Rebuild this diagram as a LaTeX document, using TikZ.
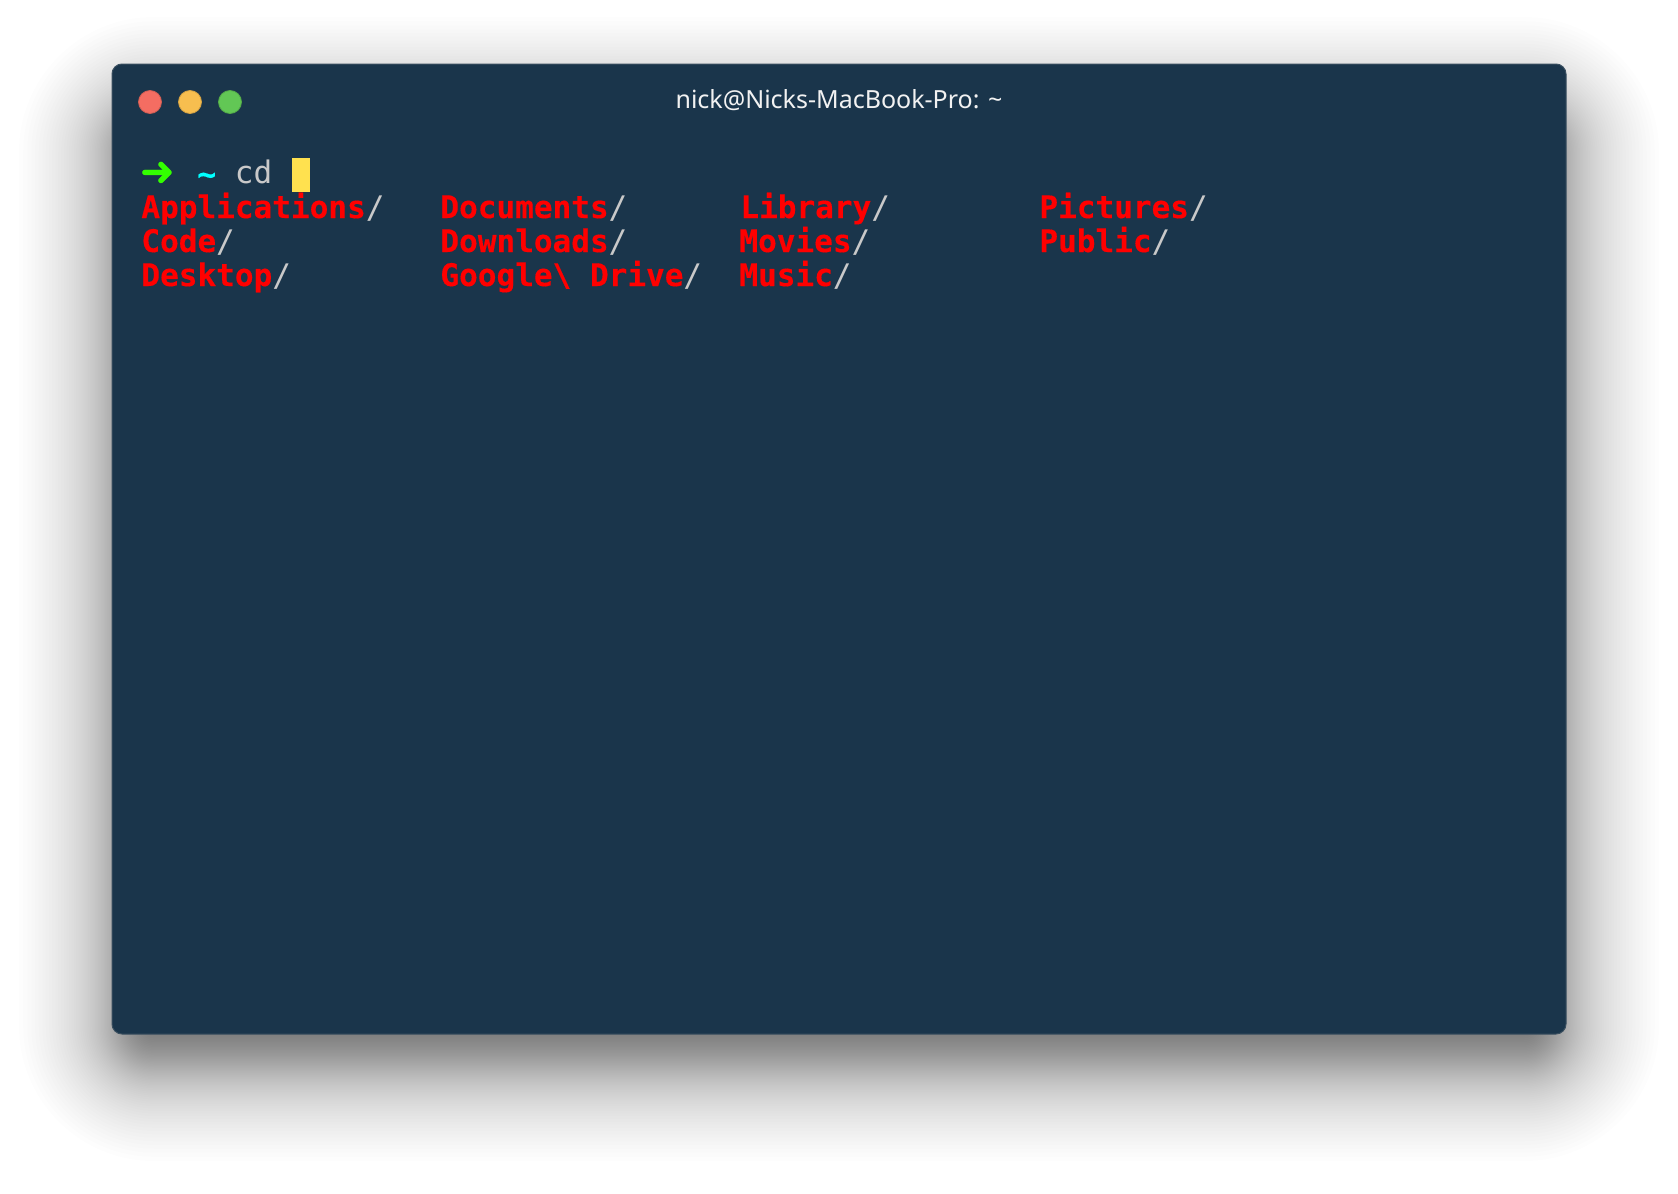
\documentclass[tikz,border=0pt]{standalone}
\usepackage{fontspec}
\setmainfont{Noto Sans}
\newfontfamily\termfont[BoldFeatures={FakeBold=0.35}]{DejaVu Sans Mono}
\usepackage{xcolor}
\definecolor{winbg}{HTML}{1A354B}
\definecolor{winedge}{HTML}{3A4F60}
\definecolor{termgray}{HTML}{C9C9C9}
\definecolor{termred}{HTML}{FF0000}
\definecolor{termcyan}{HTML}{00FFFF}
\definecolor{cursoryellow}{HTML}{FFE14F}
\definecolor{promptgreen}{HTML}{33FF00}
\definecolor{closered}{HTML}{F46D62}
\definecolor{minyellow}{HTML}{F7BE4F}
\definecolor{zoomgreen}{HTML}{62C755}
\begin{document}
\begin{tikzpicture}[x=0.5pt,y=-0.5pt]
    \tikzstyle{dirname} = [anchor=base west,inner sep=0,text=termred,font=\termfont\fontsize{15.53}{17}\selectfont\bfseries]
    \tikzstyle{light} = [circle,minimum size=11.5pt,inner sep=0,line width=.4pt]
    \useasboundingbox (0,0) rectangle (1678,1194);
    \fill[white] (0,0) rectangle (1678,1194);
    % soft shadow, one faint layer on top of the other
    \foreach \i in {-42,...,42}
    {
      \pgfmathsetmacro{\t}{\i/42}
      \pgfmathsetmacro{\d}{95*\t*(0.55+0.45*\t*\t)}
      \pgfmathsetmacro{\r}{max(5,(40+\d)*0.5)}
      \fill[black,opacity=0.0068,rounded corners=\r pt] ({114-\d},{112-\d}) rectangle ({1564+\d},{1066+\d});
    }
    \fill[winbg,draw=winedge,line width=.5pt,rounded corners=5pt] (112,64) rectangle (1566,1034);
    \node[light,fill=closered,draw=closered!85!black] (close) at (150,102) {};
    \node[light,fill=minyellow,draw=minyellow!85!black] (min) at (190,102) {};
    \node[light,fill=zoomgreen,draw=zoomgreen!85!black] (zoom) at (230,102) {};
    \node[text=white!95!black,font=\fontsize{12.5}{14}\selectfont] (title) at (839,100) {nick@Nicks-MacBook-Pro: \textasciitilde};
    % prompt line
    \node[dirname,text=promptgreen,font=\termfont\fontsize{27.5}{29}\selectfont\bfseries] (arrow) at (140,191) {➜};
    \node[dirname,text=termcyan] (tilde) at (197,185) {\textasciitilde};
    \node[dirname,text=termgray,font=\termfont\fontsize{15.53}{17}\selectfont] (cmd) at (234.5,183) {cd};
    \fill[cursoryellow] (292,158) rectangle (310,192);
    % listing, four columns of three rows
    \foreach \id/\name/\col/\row in {apps/Applications/141/218,code/Code/141/252,desk/Desktop/141/286,
      docs/Documents/440/218,down/Downloads/440/252,drive/Google\textbackslash\ Drive/440/286,
      lib/Library/740/218,mov/Movies/739/252,mus/Music/739/286,pics/Pictures/1039/218,pub/Public/1039/252}
    {
      \node[dirname] (\id) at (\col,\row) {\name{\color{termgray}\mdseries/}};
    }
\end{tikzpicture}
\end{document}
